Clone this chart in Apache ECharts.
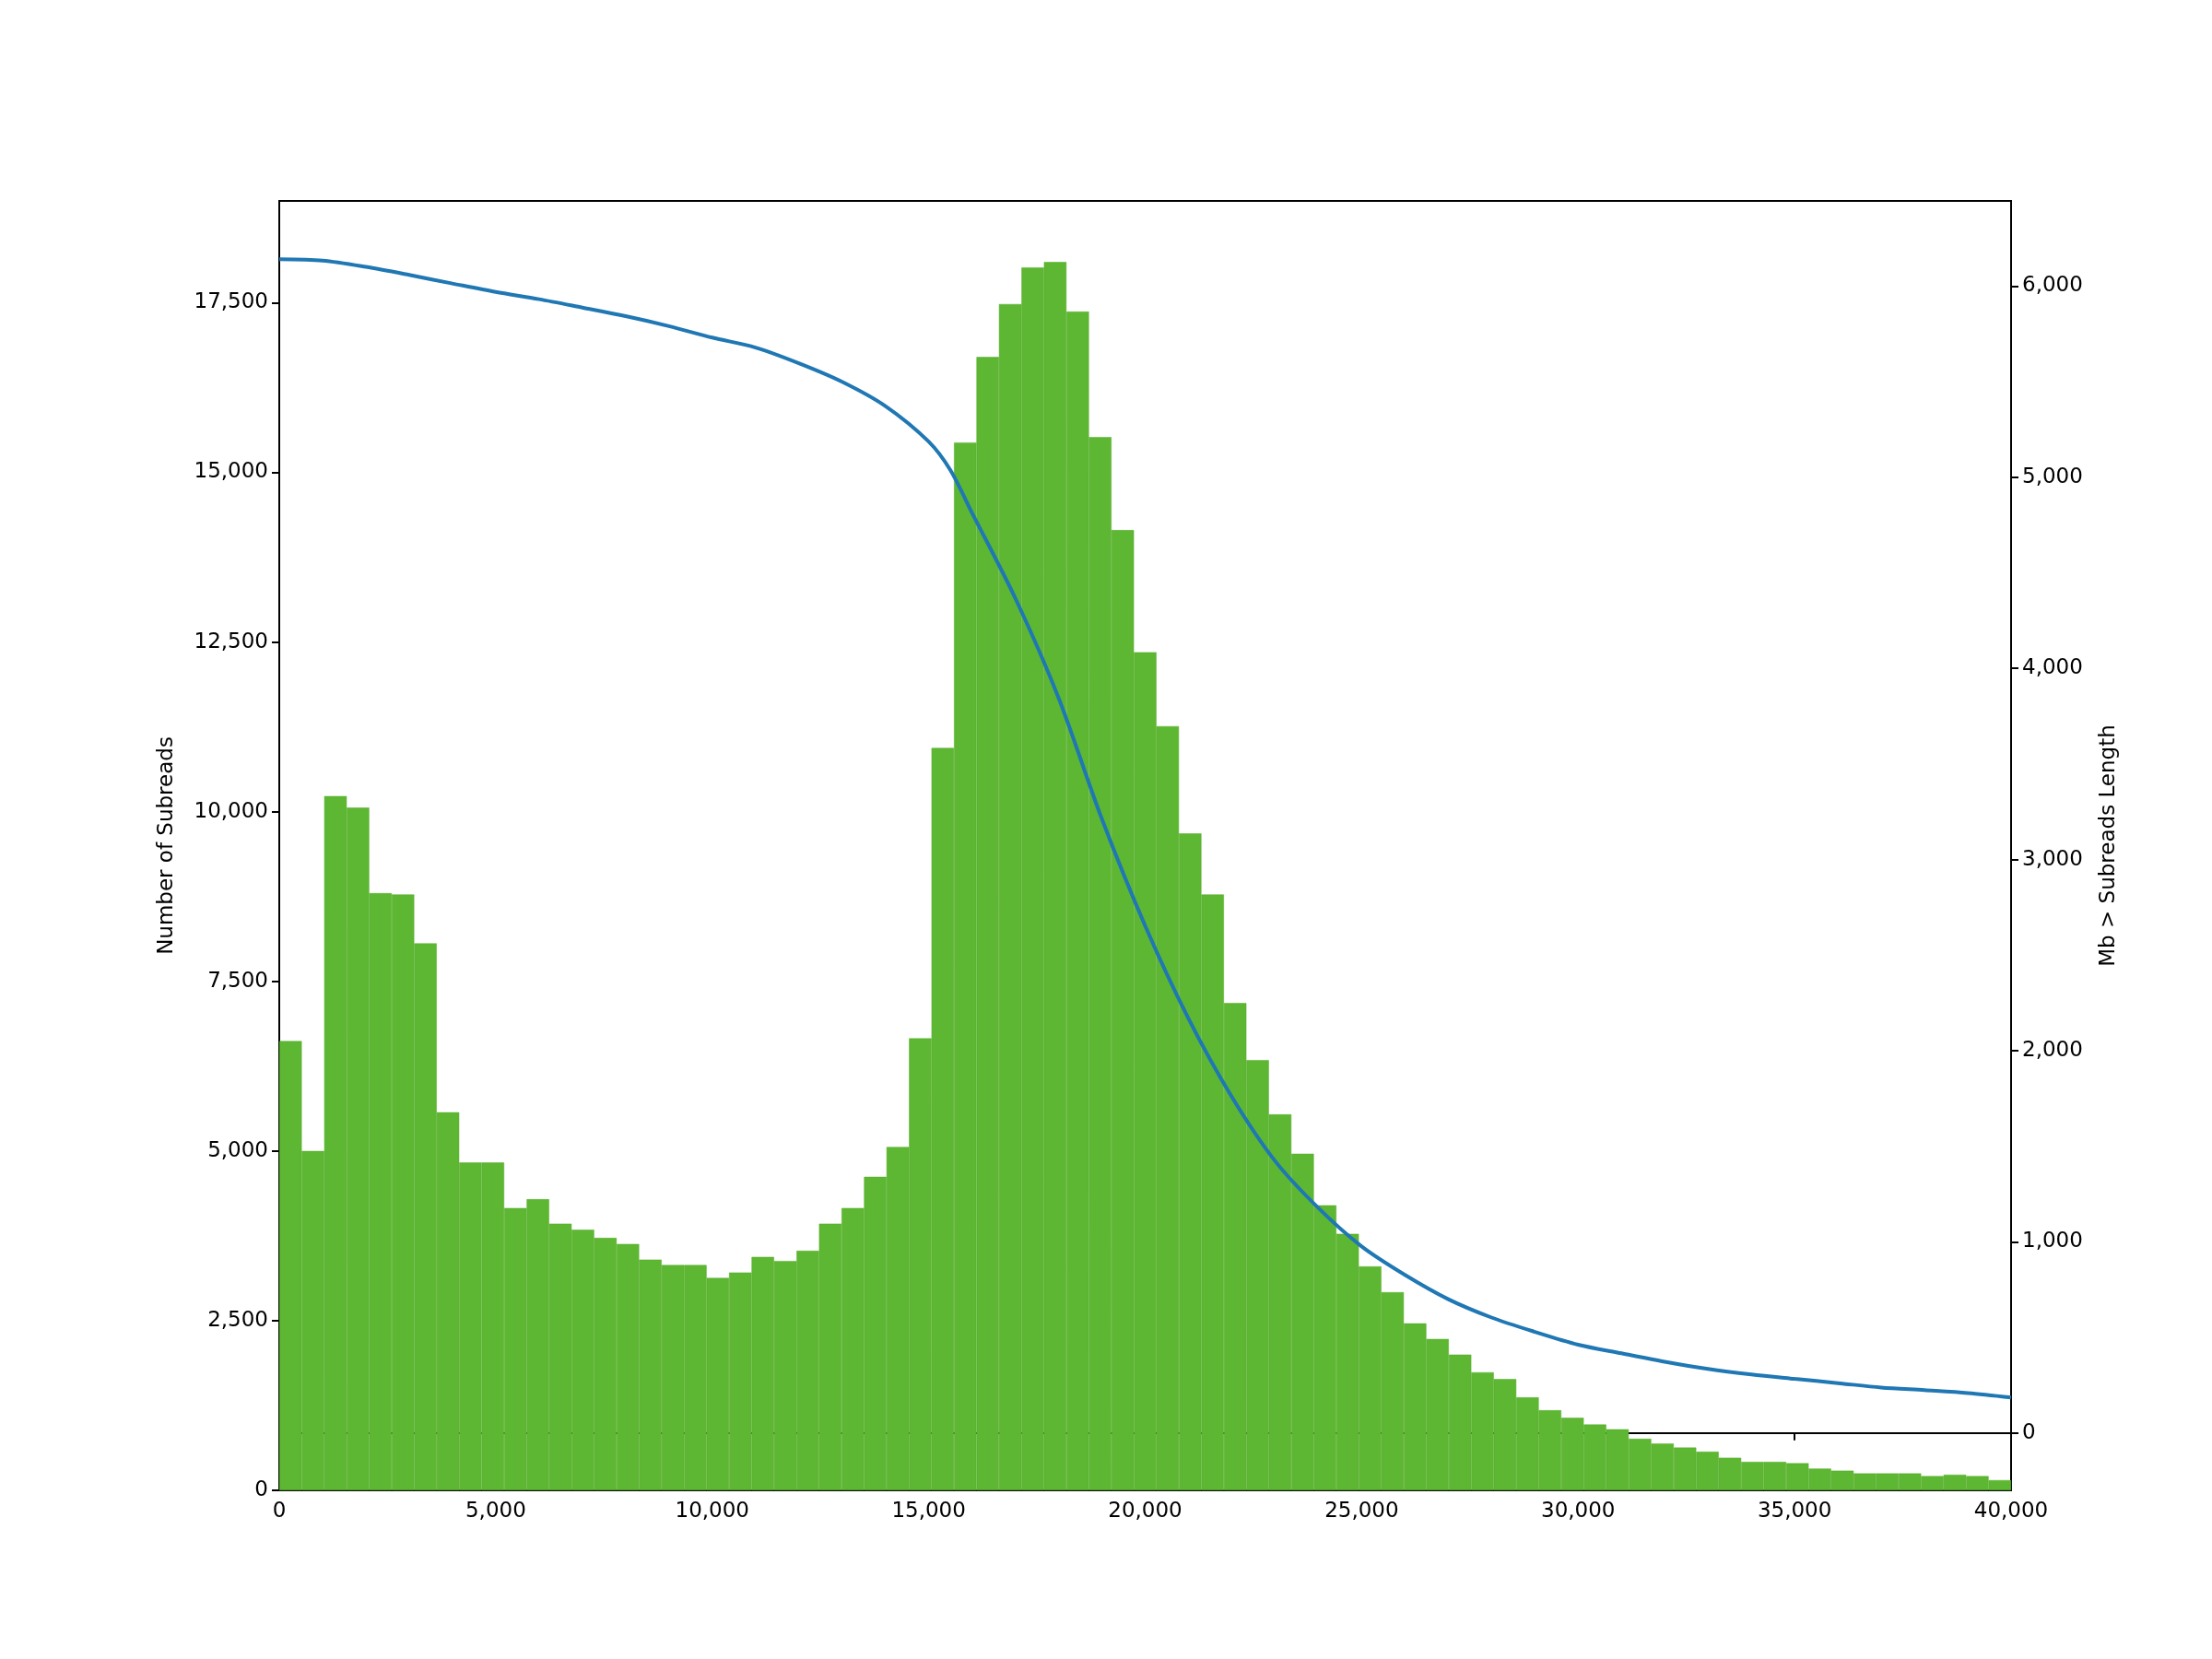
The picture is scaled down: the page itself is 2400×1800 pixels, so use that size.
<!DOCTYPE html>
<html><head><meta charset="utf-8">
<script src="https://cdn.jsdelivr.net/npm/echarts@6/dist/echarts.min.js"></script>
<style>html,body{margin:0;background:#fff}#c{width:2400px;height:1800px}</style>
</head><body><div id="c"></div>
<script>
const binCounts = [6620,5000,10230,10060,8800,8780,8060,5570,4830,4830,4160,4290,3930,3840,3720,3630,3400,3320,3320,3130,3210,3440,3380,3530,3930,4160,4620,5060,6660,10940,15440,16700,17480,18020,18100,17370,15520,14150,12350,11260,9680,8780,7180,6340,5540,4960,4200,3780,3300,2920,2460,2230,2000,1740,1640,1370,1180,1070,970,900,760,690,630,570,480,420,420,400,320,290,250,250,250,210,230,210,150];
const lineX = [0,1000,2000,3000,4000,5000,6000,7000,8000,9000,10000,11000,12000,13000,14000,15000,15500,16000,17000,18000,19000,20000,21000,22000,23000,24000,25000,26000,27000,28000,29000,30000,31000,32000,33000,34000,35000,36000,37000,38000,39000,40000];
const lineMb = [6140,6133,6100,6058,6013,5969,5931,5887,5842,5790,5730,5678,5596,5499,5372,5186,5037,4814,4367,3845,3212,2653,2168,1759,1423,1177,976,827,700,604,529,462,417,373,335,306,283,261,238,224,209,186];
const xTicks = [0,5000,10000,15000,20000,25000,30000,35000,40000];

const font = {fontFamily:'DejaVu Sans', fontSize:23, color:'#000'};
const axLine = {show:true, lineStyle:{color:'#000', width:2}};
const tick = {show:true, length:8, lineStyle:{color:'#000', width:2}, inside:false};
const chart = echarts.init(document.getElementById('c'));
chart.setOption({
  animation:false,
  grid:{left:303, right:218, top:218, bottom:183},
  xAxis:[
    {type:'category', data:binCounts.map((_,i)=>i), show:false, boundaryGap:true},
    {type:'value', min:0, max:40000, interval:5000, position:'bottom', axisLine:axLine, axisTick:tick, splitLine:{show:false}, axisLabel:{...font, margin:12}}
  ],
  yAxis:[
    {type:'value', min:0, max:19000, interval:2500, position:'left', name:'Number of Subreads', nameLocation:'middle', nameGap:110, nameTextStyle:font, axisLine:axLine, axisTick:tick, splitLine:{show:false}, axisLabel:{...font, margin:12, showMaxLabel:false}},
    {type:'value', min:-300, max:6445, position:'right', name:'Mb > Subreads Length', nameLocation:'middle', nameGap:95, nameTextStyle:font, axisLine:axLine, axisTick:tick, splitLine:{show:false},
     axisLabel:{...font, margin:12, customValues:[0,1000,2000,3000,4000,5000,6000]}, axisTick:{...tick, customValues:[0,1000,2000,3000,4000,5000,6000]}}
  ],
  series:[
    {type:'bar', xAxisIndex:0, yAxisIndex:0, data:binCounts, barWidth:'100%', barCategoryGap:0, itemStyle:{color:'#5db732', borderColor:'#56ad2c', borderWidth:0.5}},
    {type:'line', xAxisIndex:1, yAxisIndex:1, data:lineX.map((x,i)=>[x,lineMb[i]]), smooth:0.3, showSymbol:false, lineStyle:{color:'#1f77b4', width:4}}
  ]
});
// draw frame top
chart.setOption({graphic:[{type:'rect', shape:{x:303,y:218,width:1879,height:1399}, style:{fill:'none', stroke:'#000', lineWidth:2}, silent:true}]});
</script></body></html>
